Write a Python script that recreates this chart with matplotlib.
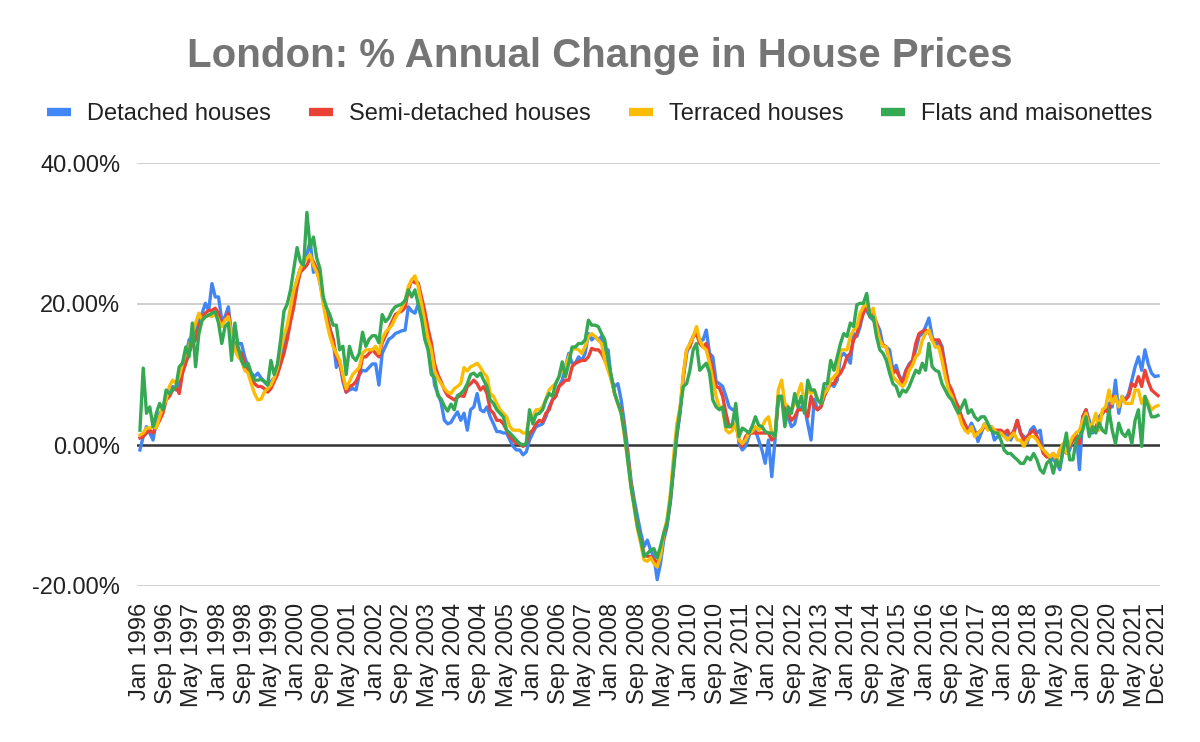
import numpy as np
import matplotlib
matplotlib.use("Agg")
import matplotlib.pyplot as plt
from matplotlib.lines import Line2D

plt.rcParams['font.family'] = ['Liberation Sans', 'DejaVu Sans']

TITLE = "London: % Annual Change in House Prices"
SERIES_NAMES = ["Detached houses", "Semi-detached houses", "Terraced houses", "Flats and maisonettes"]
COLORS = ["#4285F4", "#EA4335", "#FBBC04", "#34A853"]
MONTHS = ["Jan", "Feb", "Mar", "Apr", "May", "Jun", "Jul", "Aug", "Sep", "Oct", "Nov", "Dec"]
START_YEAR = 1996
Y_TICKS = [-20, 0, 20, 40]
Y_TICK_LABELS = ["-20.00%", "0.00%", "20.00%", "40.00%"]

detached = [
    -0.7, 1.2, 2.6, 1.7, 0.7, 3.5, 4.5, 5.0, 6.9, 7.3, 8.3, 7.8,          # 1996
    9.2, 11.1, 12.5, 14.9, 15.4, 16.3, 17.7, 18.7, 20.1, 19.1, 22.9, 21.0,  # 1997
    21.0, 17.7, 18.2, 19.6, 15.8, 13.9, 14.4, 14.4, 12.5, 11.1, 10.2, 9.7,  # 1998
    10.2, 9.5, 9.0, 8.5, 9.0, 9.5, 10.5, 12.5, 14.5, 16.5, 19.0, 21.5,      # 1999
    23.5, 25.0, 26.0, 27.0, 29.0, 24.5, 25.0, 23.0, 20.5, 18.5, 16.5, 15.0,  # 2000
    11.0, 12.0, 9.0, 7.5, 7.8, 8.0, 7.8, 10.0, 10.6, 10.5, 11.0, 11.5,      # 2001
    11.5, 8.5, 13.0, 14.0, 15.0, 15.3, 15.8, 16.0, 16.2, 16.3, 19.6, 19.0,  # 2002
    18.7, 20.0, 18.0, 16.5, 15.0, 12.5, 8.5, 7.3, 6.0, 3.5, 3.0, 3.2,       # 2003
    4.0, 4.7, 3.5, 4.5, 2.1, 5.0, 5.4, 7.3, 5.0, 4.7, 5.4, 4.0,             # 2004
    3.0, 1.9, 1.9, 1.7, 1.7, 0.7, -0.2, -0.7, -0.7, -1.4, -1.0, 0.7,        # 2005
    1.7, 2.6, 2.8, 3.0, 4.0, 5.4, 6.4, 6.9, 8.3, 9.2, 11.1, 13.0,           # 2006
    11.6, 11.6, 12.5, 12.0, 13.0, 15.8, 14.9, 15.4, 14.9, 15.4, 13.0, 13.5, # 2007
    9.2, 8.3, 8.7, 6.4, 3.0, -0.7, -5.0, -7.8, -10.2, -12.5, -14.4, -13.5,  # 2008
    -14.9, -15.8, -19.1, -16.8, -13.5, -11.6, -8.3, -3.5, 1.2, 4.5, 9.7, 13.0,  # 2009
    14.4, 15.4, 15.8, 14.9, 14.9, 16.3, 13.0, 12.5, 9.0, 8.7, 8.3, 6.9,     # 2010
    5.4, 5.0, 5.0, 0.2, -0.7, -0.2, 1.2, 2.6, 2.1, 0.7, -0.7, -2.6,         # 2011
    0.7, -4.5, 0.7, 6.9, 6.9, 4.5, 4.0, 2.6, 3.0, 5.0, 5.4, 5.4,            # 2012
    3.0, 0.7, 6.5, 5.0, 5.4, 6.9, 8.3, 8.7, 8.3, 9.2, 12.5, 13.0,           # 2013
    12.5, 11.6, 15.8, 15.4, 16.8, 19.1, 19.1, 18.2, 17.7, 17.3, 16.3, 14.0, # 2014
    13.9, 13.5, 10.6, 11.3, 9.7, 9.2, 10.6, 11.5, 12.0, 13.5, 15.4, 15.8,   # 2015
    16.8, 18.0, 15.4, 13.9, 14.9, 14.0, 11.1, 8.3, 7.3, 5.9, 5.4, 3.5,      # 2016
    2.6, 2.1, 3.1, 2.1, 0.5, 1.7, 3.0, 2.6, 2.6, 0.7, 1.2, 1.7,             # 2017
    1.2, 1.7, 0.7, 1.7, 3.5, 1.7, 1.2, 0.2, 2.1, 2.6, 1.7, 2.1,             # 2018
    -1.2, -1.2, -1.7, -2.1, -2.6, -3.5, -0.7, -1.2, -0.7, 0.7, 1.7, -3.5,   # 2019
    4.0, 5.0, 3.5, 1.7, 2.1, 4.0, 4.5, 5.0, 5.9, 5.4, 9.2, 4.5,             # 2020
    6.9, 6.4, 7.3, 9.2, 11.1, 12.5, 10.6, 13.5, 11.5, 10.2, 9.7, 9.8,       # 2021
]

semi_detached = [
    1.0, 1.2, 1.7, 2.1, 1.7, 2.6, 3.5, 4.5, 6.4, 6.9, 7.8, 8.3,
    7.3, 10.2, 11.6, 13.0, 14.4, 14.9, 16.8, 18.2, 18.7, 19.1, 19.1, 19.4,
    18.7, 17.3, 17.7, 18.7, 15.4, 14.4, 13.5, 13.0, 11.6, 10.8, 9.7, 8.7,
    8.3, 8.3, 8.0, 7.5, 8.0, 9.0, 10.0, 11.5, 13.0, 15.0, 17.5, 19.6,
    22.5, 24.5, 25.0, 25.5, 26.5, 26.0, 25.0, 23.5, 20.5, 18.5, 16.5, 15.0,
    12.5, 11.5, 9.5, 7.5, 8.3, 8.5, 9.0, 10.0, 12.5, 12.5, 13.0, 13.5,
    13.0, 12.5, 14.5, 15.5, 16.5, 17.5, 18.5, 18.8, 19.0, 19.5, 22.0, 23.4,
    23.0, 23.0, 21.0, 19.0, 16.5, 14.5, 11.5, 10.0, 9.0, 7.8, 7.0, 6.7,
    6.4, 6.8, 7.0, 6.9, 8.3, 8.7, 9.2, 8.7, 7.8, 8.3, 7.3, 5.0,
    4.5, 3.5, 3.5, 3.0, 2.1, 1.2, 0.7, 0.2, 0.2, -0.2, 0.2, 1.7,
    2.1, 3.0, 3.5, 3.3, 4.5, 5.0, 6.4, 6.9, 8.3, 8.7, 9.2, 9.2,
    11.1, 11.6, 11.8, 12.0, 12.0, 12.5, 13.7, 13.5, 13.5, 13.0, 12.0, 11.1,
    9.7, 7.3, 5.9, 5.0, 2.1, -1.2, -5.5, -8.5, -11.5, -13.5, -15.4, -15.8,
    -15.8, -16.3, -16.8, -15.4, -13.0, -11.0, -7.8, -3.0, 1.7, 5.0, 9.7, 13.5,
    13.9, 15.4, 15.8, 14.4, 13.9, 14.4, 12.5, 10.6, 8.3, 8.1, 6.9, 4.5,
    2.6, 2.6, 3.0, 0.7, -0.2, 1.2, 1.7, 1.7, 1.7, 1.7, 1.7, 1.7,
    1.7, 0.7, 1.2, 6.4, 6.9, 4.9, 4.5, 3.5, 4.0, 5.0, 5.0, 5.0,
    4.0, 6.9, 5.4, 5.0, 5.4, 6.9, 7.8, 8.7, 8.7, 9.7, 10.2, 11.1,
    12.5, 13.0, 14.9, 15.8, 17.3, 18.7, 19.6, 18.2, 18.7, 17.3, 14.9, 14.2,
    13.9, 12.0, 10.2, 10.6, 9.7, 8.7, 10.5, 11.3, 12.0, 14.4, 15.8, 16.1,
    16.3, 16.1, 14.9, 14.9, 14.9, 13.5, 11.1, 8.7, 7.8, 6.4, 5.4, 4.0,
    3.0, 2.1, 2.1, 1.7, 1.7, 2.1, 2.6, 2.4, 2.6, 2.1, 2.1, 2.1,
    1.7, 2.1, 1.2, 2.1, 3.5, 1.7, 0.7, 1.2, 1.7, 2.1, 1.2, 0.2,
    -1.2, -1.7, -1.7, -1.2, -2.1, -0.7, -0.2, -0.7, -0.2, 0.7, 1.2, 0.2,
    4.0, 5.0, 2.6, 2.1, 2.6, 3.5, 4.5, 5.0, 4.5, 6.9, 6.4, 5.9,
    6.4, 6.4, 6.9, 8.7, 8.3, 9.7, 8.3, 10.6, 9.0, 7.8, 7.4, 7.0,
]

terraced = [
    1.4, 1.7, 2.4, 2.4, 2.6, 2.4, 4.0, 5.4, 6.4, 8.3, 9.2, 8.8,
    9.7, 11.6, 13.0, 13.9, 15.8, 17.3, 18.7, 17.7, 18.2, 18.4, 18.2, 18.7,
    17.7, 16.8, 17.7, 18.2, 15.8, 13.5, 12.5, 12.0, 10.6, 10.2, 8.7, 7.3,
    6.4, 6.5, 7.5, 8.0, 8.5, 9.5, 11.0, 13.5, 15.5, 17.0, 19.5, 22.0,
    23.5, 25.0, 26.0, 26.5, 27.0, 25.5, 24.5, 23.0, 20.0, 17.5, 15.5, 14.0,
    13.0, 12.0, 10.0, 8.0, 9.0, 10.0, 10.5, 11.0, 13.0, 13.5, 13.5, 13.5,
    14.0, 13.0, 15.0, 16.0, 16.5, 17.0, 18.0, 18.8, 19.5, 20.5, 22.5, 23.4,
    24.0, 22.5, 20.0, 17.5, 15.0, 13.5, 10.5, 9.5, 8.7, 8.0, 7.5, 7.3,
    8.0, 8.3, 8.7, 11.0, 10.5, 11.1, 11.3, 11.6, 11.0, 10.2, 9.7, 7.3,
    6.9, 5.9, 5.0, 4.5, 4.0, 2.6, 2.1, 2.1, 2.1, 1.7, 1.7, 4.0,
    4.0, 5.0, 5.0, 5.4, 6.5, 7.8, 8.3, 8.7, 9.7, 10.6, 11.1, 12.5,
    13.5, 13.7, 13.5, 13.0, 14.0, 15.4, 15.8, 15.4, 14.9, 14.4, 12.0, 10.6,
    9.2, 7.3, 5.9, 4.5, 1.2, -2.1, -6.0, -9.0, -12.0, -14.0, -16.3, -16.5,
    -16.0, -16.8, -17.3, -15.8, -12.5, -10.6, -7.0, -1.7, 3.0, 5.4, 10.2, 13.5,
    14.4, 15.4, 16.8, 14.9, 13.9, 13.5, 11.6, 9.2, 6.9, 5.4, 5.0, 2.1,
    1.7, 2.1, 3.0, 0.7, 0.2, 0.7, 1.7, 1.9, 2.6, 2.1, 2.6, 3.5,
    4.0, 1.7, 1.2, 7.8, 9.2, 5.9, 5.4, 4.9, 5.9, 7.3, 8.7, 5.9,
    7.8, 7.3, 7.8, 6.4, 5.9, 7.3, 7.8, 9.2, 9.7, 10.2, 13.5, 13.5,
    13.5, 15.4, 16.3, 16.8, 18.7, 19.6, 20.1, 18.7, 19.4, 16.8, 14.9, 14.0,
    13.9, 12.0, 9.7, 9.2, 8.7, 8.3, 9.0, 10.6, 11.3, 12.5, 13.0, 14.9,
    15.8, 16.3, 14.9, 13.9, 13.9, 12.0, 9.7, 7.8, 6.9, 5.4, 4.5, 3.0,
    2.1, 1.7, 2.6, 1.2, 1.7, 2.1, 3.0, 2.1, 2.6, 2.1, 1.7, 1.7,
    1.2, 0.7, 1.2, 1.7, 0.7, 0.7, -0.2, 0.7, 1.2, 1.2, 0.7, -0.2,
    -0.7, -1.2, -1.7, -1.2, -2.1, -0.7, 0.2, -1.2, 0.2, 1.2, 1.7, 2.1,
    3.5, 4.5, 2.6, 3.0, 4.5, 2.1, 5.0, 5.4, 7.8, 5.9, 6.9, 5.4,
    6.9, 5.9, 5.9, 5.9, 7.8, 7.8, 5.9, 6.9, 6.0, 5.0, 5.4, 5.6,
]

flats = [
    2.1, 10.9, 4.5, 5.4, 2.6, 4.5, 5.9, 5.0, 7.8, 7.3, 7.8, 8.3,
    11.1, 11.6, 13.9, 12.5, 17.3, 11.1, 15.8, 17.7, 18.2, 18.4, 18.7, 18.9,
    17.3, 14.4, 16.8, 17.3, 12.0, 17.3, 13.9, 12.0, 11.1, 11.6, 10.2, 9.2,
    9.2, 9.3, 9.0, 8.5, 12.0, 10.0, 11.5, 15.0, 19.0, 20.0, 22.0, 25.0,
    28.0, 26.0, 25.5, 33.0, 28.0, 29.5, 26.5, 25.0, 21.0, 19.5, 18.5, 17.0,
    17.0, 13.5, 14.0, 10.0, 14.0, 12.5, 12.0, 13.0, 16.0, 14.0, 15.0, 15.5,
    15.5, 14.5, 18.5, 17.5, 18.0, 19.0, 19.6, 19.8, 20.0, 20.5, 22.0, 21.0,
    22.0, 20.0, 18.0, 15.0, 13.5, 10.0, 9.5, 7.0, 6.5, 5.5, 4.8, 5.8,
    5.0, 7.0, 7.3, 7.8, 8.7, 10.0, 10.2, 9.7, 10.2, 9.2, 8.3, 6.4,
    5.9, 5.0, 4.5, 4.0, 2.1, 1.7, 1.2, 0.7, 0.2, 0.0, 0.2, 5.0,
    3.0, 4.3, 4.5, 5.0, 6.4, 7.3, 6.9, 8.7, 9.7, 11.8, 9.7, 11.6,
    13.9, 13.9, 14.4, 14.4, 14.9, 17.7, 17.0, 17.0, 16.8, 15.8, 14.9, 12.0,
    9.7, 7.3, 5.9, 4.5, 1.7, -2.1, -5.9, -8.7, -11.6, -13.5, -15.8, -15.4,
    -14.9, -14.7, -16.0, -14.4, -12.5, -11.1, -7.8, -3.1, 1.7, 5.0, 8.3, 8.7,
    10.6, 13.5, 14.4, 10.6, 11.1, 11.6, 10.2, 6.4, 5.4, 5.0, 5.4, 2.6,
    2.6, 3.0, 5.9, 1.2, 2.4, 2.1, 1.7, 2.6, 4.0, 2.8, 2.6, 1.9,
    1.7, 1.7, 1.2, 6.9, 6.9, 2.6, 5.4, 4.5, 7.3, 5.4, 6.9, 4.5,
    9.2, 7.8, 7.8, 6.4, 5.9, 8.7, 8.7, 12.0, 10.6, 12.5, 14.4, 15.8,
    15.4, 17.3, 16.8, 19.9, 20.1, 20.1, 21.5, 18.2, 18.2, 15.4, 13.5, 13.0,
    12.0, 10.2, 8.7, 8.3, 6.9, 7.8, 7.5, 8.3, 9.5, 10.6, 10.2, 11.6,
    10.6, 14.4, 11.1, 10.6, 10.4, 8.7, 7.8, 6.9, 6.4, 5.4, 4.5, 5.4,
    6.4, 4.5, 5.0, 4.0, 3.5, 4.0, 4.0, 3.1, 2.1, 1.7, 1.7, 0.7,
    -0.7, -1.2, -1.2, -1.7, -2.1, -2.6, -2.6, -1.7, -2.1, -1.2, -2.1, -3.5,
    -4.0, -2.6, -2.1, -4.0, -2.1, -3.1, -0.7, 1.7, -2.1, -2.1, 0.7, 1.2,
    2.1, 4.0, 1.2, 2.6, 1.7, 3.1, 2.1, 1.7, 5.0, 2.1, 0.2, 3.1,
    1.7, 1.2, 2.1, 0.2, 3.5, 5.0, -0.2, 6.9, 5.5, 4.0, 4.0, 4.2,
]

series = [detached, semi_detached, terraced, flats]
n = len(detached)
x = np.arange(n)

fig = plt.figure(figsize=(12, 7.42), dpi=100)
ax = fig.add_axes([137 / 1200, 1 - 586 / 742, (1160 - 137) / 1200, (586 - 163) / 742])

for vals, col, name in zip(series, COLORS, SERIES_NAMES):
    ax.plot(x, vals, color=col, lw=2.4, label=name, zorder=3, solid_joinstyle='round')

ax.set_ylim(-20, 40)
ax.set_xlim(-0.9, n - 1 + 0.6)
ax.set_yticks(Y_TICKS)
ax.set_yticklabels(Y_TICK_LABELS)
for yv in Y_TICKS:
    if yv != 0:
        ax.axhline(yv, color="#cccccc", lw=1.3, zorder=1)
ax.axhline(0, color="#333333", lw=1.8, zorder=2)

tick_idx = list(range(0, n - 7, 8)) + [n - 1]
tick_labels = [f"{MONTHS[i % 12]} {START_YEAR + i // 12}" for i in tick_idx]
ax.set_xticks(tick_idx)
ax.set_xticklabels(tick_labels, rotation=90)

ax.tick_params(axis='both', length=0, labelsize=17, colors="#222222")
ax.tick_params(axis='y', pad=12)
ax.tick_params(axis='x', pad=12)
for s in ax.spines.values():
    s.set_visible(False)

fig.text(0.5, 1 - 56 / 742, TITLE, ha='center', va='center', fontsize=29,
         fontweight='bold', color="#757575")

handles = [Line2D([], [], linestyle='-', linewidth=6, color=c, solid_capstyle='butt')
           for c in COLORS]
fig.legend(handles, SERIES_NAMES, loc='center', bbox_to_anchor=(0.5, 1 - 114 / 742),
           ncol=4, frameon=False, fontsize=17, handlelength=1.0, handletextpad=0.68,
           columnspacing=1.62, labelcolor="#222222")

fig.savefig("out.png", dpi=100)
